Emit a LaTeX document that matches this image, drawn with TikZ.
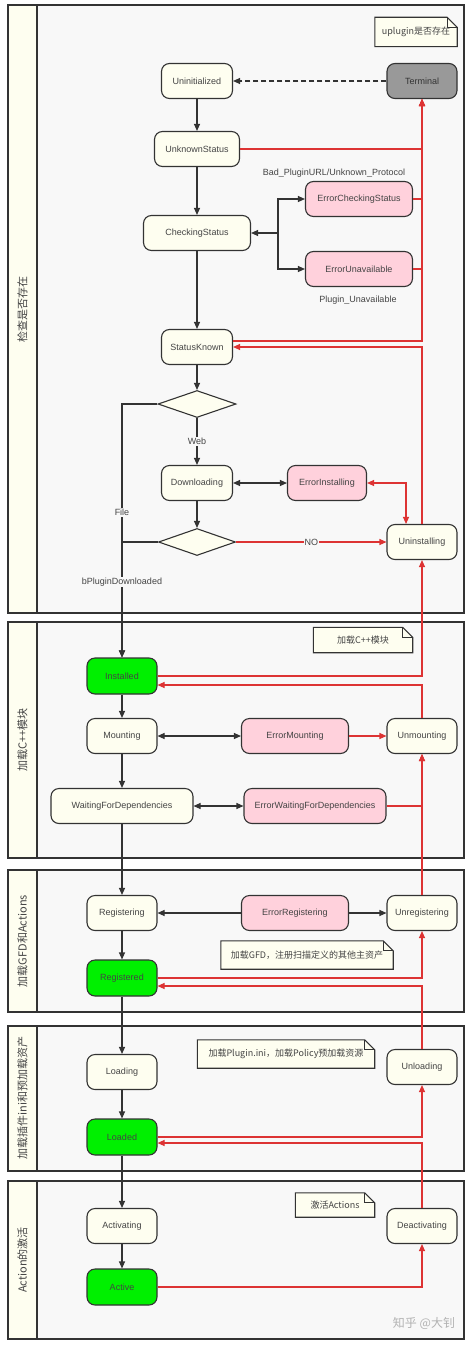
\documentclass[tikz,border=0pt]{standalone}
\usepackage{fontspec}
\setmainfont{Liberation Sans}
\newfontfamily\cjk{Noto Sans CJK SC}
\usetikzlibrary{arrows.meta,shapes.geometric}
\definecolor{lanebg}{HTML}{F8F8F8}
\definecolor{cream}{HTML}{FEFEF0}
\definecolor{errpink}{HTML}{FFD1DC}
\definecolor{okgreen}{HTML}{00F000}
\definecolor{termgray}{HTML}{999999}
\definecolor{edgec}{HTML}{333333}
\definecolor{txt}{HTML}{444444}
\definecolor{redline}{HTML}{DD3333}
\pgfdeclarelayer{background}
\pgfsetlayers{background,main}
\begin{document}
\begin{tikzpicture}[x=1pt,y=-1pt,
  state/.style={draw=edgec, line width=1.1pt, rounded corners=8pt, fill=cream,
    minimum height=35pt, minimum width=70pt, inner sep=0pt, text=txt,
    font=\fontsize{9}{10}\selectfont},
  errstate/.style={state, fill=errpink},
  okstate/.style={state, fill=okgreen},
  decision/.style={diamond, draw=edgec, line width=1.1pt, fill=cream, inner sep=0pt},
  notebox/.style={inner sep=0pt, text=txt, font=\cjk\fontsize{9}{10}\selectfont},
  lanebox/.style={draw=edgec, line width=1.2pt, fill=lanebg},
  lanecol/.style={draw=edgec, line width=1.2pt, fill=cream},
  lanelbl/.style={rotate=90, text=txt, font=\cjk\fontsize{11}{12}\selectfont},
  elbl/.style={text=txt, font=\fontsize{9}{10}\selectfont, inner sep=1pt},
  flbl/.style={elbl, fill=lanebg},
  blk/.style={draw=edgec, line width=1.1pt, -{Triangle[length=7pt,width=6pt]}},
  blkboth/.style={draw=edgec, line width=1.1pt, {Triangle[length=7pt,width=6pt]}-{Triangle[length=7pt,width=6pt]}},
  red/.style={draw=redline, line width=1.1pt, -{Triangle[length=7pt,width=6pt]}},
  redboth/.style={draw=redline, line width=1.1pt, {Triangle[length=7pt,width=6pt]}-{Triangle[length=7pt,width=6pt]}}
]
\useasboundingbox (0,0) rectangle (474,1346);

% ---------- lanes ----------
\begin{pgfonlayer}{background}
\fill[white] (0,0) rectangle (474,1346);
\draw[lanebox] (8,5) rectangle (464,613);
\draw[lanecol] (8,5) rectangle (37,613);
\draw[lanebox] (8,622) rectangle (464,858);
\draw[lanecol] (8,622) rectangle (37,858);
\draw[lanebox] (8,870) rectangle (464,1012);
\draw[lanecol] (8,870) rectangle (37,1012);
\draw[lanebox] (8,1026) rectangle (464,1171);
\draw[lanecol] (8,1026) rectangle (37,1171);
\draw[lanebox] (8,1181) rectangle (464,1339);
\draw[lanecol] (8,1181) rectangle (37,1339);
\end{pgfonlayer}

\node[lanelbl] (lab1) at (22.5,309) {检查是否存在};
\node[lanelbl] (lab2) at (22.5,740) {加载C++模块};
\node[lanelbl] (lab3) at (22.5,941) {加载GFD和Actions};
\node[lanelbl] (lab4) at (22.5,1098) {加载插件ini和预加载资产};
\node[lanelbl] (lab5) at (22.5,1260) {Action的激活};

% ---------- notes ----------
\node[notebox, minimum width=82pt, minimum height=29pt] (n1) at (416,32) {uplugin是否存在};
\node[notebox, minimum width=99pt, minimum height=25pt] (n2) at (363,640) {加载C++模块};
\node[notebox, minimum width=172pt, minimum height=28pt] (n3) at (307,955) {加载GFD，注册扫描定义的其他主资产};
\node[notebox, minimum width=177pt, minimum height=28pt] (n4) at (286,1054) {加载Plugin.ini，加载Policy预加载资源};
\node[notebox, minimum width=79pt, minimum height=24pt] (n5) at (335,1205) {激活Actions};
\begin{pgfonlayer}{background}
\foreach \n in {n1,n2,n3,n4,n5}{
  \draw[draw=edgec, line width=1.1pt, fill=cream, line join=miter]
    (\n.north west) -- ([xshift=-10pt]\n.north east) -- ([yshift=-10pt]\n.north east)
    -- (\n.south east) -- (\n.south west) -- cycle;
  \draw[draw=edgec, line width=0.8pt] ([xshift=-10pt]\n.north east) |- ([yshift=-10pt]\n.north east);
}
\end{pgfonlayer}

% ---------- lane 1 nodes ----------
\node[state, minimum width=71pt] (uninit) at (197,81) {Uninitialized};
\node[state, fill=termgray, text=edgec] (term) at (422,81) {Terminal};
\node[state, minimum width=85pt] (unknown) at (197,149) {UnknownStatus};
\node[state, minimum width=107pt] (checking) at (197,233) {CheckingStatus};
\node[errstate, minimum width=107pt] (ecs) at (359,199) {ErrorCheckingStatus};
\node[errstate, minimum width=107pt] (eu) at (359,269) {ErrorUnavailable};
\node[state, minimum width=71pt] (sk) at (197,347) {StatusKnown};
\node[decision, minimum width=78pt, minimum height=27pt] (d1) at (197,404) {};
\node[state, minimum width=71pt] (dl) at (197,483) {Downloading};
\node[errstate, minimum width=79pt] (einst) at (327,483) {ErrorInstalling};
\node[decision, minimum width=77pt, minimum height=27pt] (d2) at (197,542) {};
\node[state] (uninst) at (422,542) {Uninstalling};
\coordinate (br) at (278,233);

% ---------- lane 2 nodes ----------
\node[okstate, minimum height=36pt] (inst) at (122,676) {Installed};
\node[state] (mount) at (122,736) {Mounting};
\node[errstate, minimum width=107pt] (emount) at (295,736) {ErrorMounting};
\node[state] (unmount) at (422,736) {Unmounting};
\node[state, minimum width=142pt] (wfd) at (122,806) {WaitingForDependencies};
\node[errstate, minimum width=142pt] (ewfd) at (315,806) {ErrorWaitingForDependencies};

% ---------- lane 3 nodes ----------
\node[state] (reging) at (122,913) {Registering};
\node[errstate, minimum width=107pt] (ereg) at (295,913) {ErrorRegistering};
\node[state] (unreg) at (422,913) {Unregistering};
\node[okstate, minimum height=36pt] (reged) at (122,978) {Registered};

% ---------- lane 4 nodes ----------
\node[state] (loading) at (122,1072) {Loading};
\node[okstate, minimum height=36pt] (loaded) at (122,1137) {Loaded};
\node[state] (unloading) at (422,1067) {Unloading};

% ---------- lane 5 nodes ----------
\node[state] (activating) at (122,1226) {Activating};
\node[okstate, minimum height=36pt] (active) at (122,1287) {Active};
\node[state] (deact) at (422,1226) {Deactivating};

% ---------- black connectors ----------
\draw[blk, dash pattern=on 5pt off 3pt] (term) -- (uninit);
\draw[blk] (uninit) -- (unknown);
\draw[blk] (unknown) -- (checking);
\draw[blk] (checking) -- (sk);
\draw[blk] (sk) -- (d1);
\draw[blk] (d1) -- node[flbl] {Web} (dl);
\draw[blk] (dl) -- (d2);
\draw[blkboth] (dl) -- (einst);
\draw[blk] (br) -- (checking.east);
\draw[blk] (br) |- (ecs.west);
\draw[blk] (br) |- (eu.west);
\node[elbl] (lblbad) at (334,173) {Bad\_PluginURL/Unknown\_Protocol};
\node[elbl] (lblun) at (358,300) {Plugin\_Unavailable};
\draw[blk] (d1.west) -| node[flbl, pos=0.714] {File} (inst.north);
\draw[blk] (d2.west) -| node[flbl, pos=0.672] {bPluginDownloaded} (inst.north);

\draw[blk] (inst) -- (mount);
\draw[blk] (mount) -- (wfd);
\draw[blkboth] (mount) -- (emount);
\draw[blkboth] (wfd) -- (ewfd);
\draw[blk] (wfd) -- (reging);
\draw[blk] (ereg) -- (reging);
\draw[blk] (ereg) -- (unreg);
\draw[blk] (reging) -- (reged);
\draw[blk] (reged) -- (loading);
\draw[blk] (loading) -- (loaded);
\draw[blk] (loaded) -- (activating);
\draw[blk] (activating) -- (active);

% ---------- red connectors ----------
\draw[red] (unknown.east) -| (term.south);
\draw[red] (ecs.east) -| (term.south);
\draw[red] (eu.east) -| (term.south);
\draw[red] ([yshift=6pt]sk.east) -| (term.south);
\draw[red] (uninst.north) |- (sk.east);
\draw[redboth] (einst.east) -| ([xshift=-16pt]uninst.north);
\draw[red] (d2.east) -- node[elbl, fill=lanebg] {NO} (uninst.west);
\draw[red] (inst.east) -| (uninst.south);
\draw[red] (unmount.north) |- ([yshift=-9pt]inst.east);
\draw[red] (emount) -- (unmount);
\draw[red] (ewfd.east) -| (unmount.south);
\draw[red] (unreg.north) -- (unmount.south);
\draw[red] (reged.east) -| (unreg.south);
\draw[red] (unloading.north) |- ([yshift=-8pt]reged.east);
\draw[red] (loaded.east) -| (unloading.south);
\draw[red] (deact.north) |- ([yshift=-6pt]loaded.east);
\draw[red] (active.east) -| (deact.south);

% ---------- watermark ----------
\node[text=black!30, font=\cjk\fontsize{12}{13}\selectfont] (wm) at (424,1323) {知乎 @大钊};
\end{tikzpicture}
\end{document}
